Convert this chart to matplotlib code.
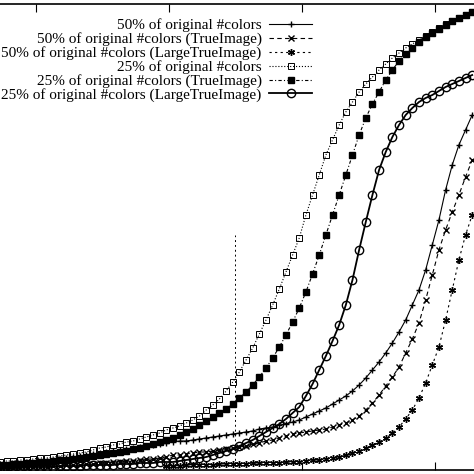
import numpy as np
import matplotlib
matplotlib.use("Agg")
import matplotlib.pyplot as plt

labels = ["50% of original #colors", "50% of original #colors (TrueImage)",
          "50% of original #colors (LargeTrueImage)", "25% of original #colors",
          "25% of original #colors (TrueImage)", "25% of original #colors (LargeTrueImage)"]

step = 6.65
plus_vals = [2,3,4,5,6,7,8,9,10,11,12,13,14,15,16,17,18,19,20,21,22,23,24,25,26,27,28,29,29,30,31,32,33,34,35,36,
             37,38,39,41,42,43,45,46,48,50,
             53,56,59,62,66,70,74,79,85,92,
             100,108,117,127,138,150,165,180,200,225,250,280,305,325,340,355]
x_vals = [1,1,2,2,2,3,3,3,4,4,5,5,5,6,6,7,
          7,8,8,9,9,10,11,11,12,13,15,15,16,17,18,
          18,19,20,21,22,23,24,26,27,29,30,32,34,36,37,
          38,39,40,41,43,45,47,50,54,60,
          67,75,84,93,103,117,131,147,170,195,220,240,258,275,293,310]
star_start = 25
star_vals = [4,4,4,5,5,5,5,5,6,6,6,6,6,7,7,7,7,7,8,8,8,
             9,10,10,11,12,13,15,17,19,22,
             25,28,32,37,43,51,60,72,87,105,123,150,180,210,235,255]
sq_vals = [8,9,9,10,10,11,12,12,13,14,15,16,17,18,20,22,
           23,25,26,28,29,31,33,35,37,40,42,44,47,50,54,
           60,65,71,79,88,98,110,122,136,150,165,181,198,215,232,
           255,275,295,315,330,345,358,368,378,386,
           393,400,406,412,417,422,426,430,434,438,442,446,449,452,455,458]
fsq_vals = [5,5,6,6,7,7,8,8,9,10,10,11,12,13,14,15,
            16,17,18,19,21,22,24,26,28,30,32,35,38,41,45,
            49,53,57,61,66,72,78,85,93,102,112,123,135,148,162,
            178,196,215,235,255,275,295,315,335,352,
            366,378,390,400,409,416,422,428,433,437,441,445,449,452,455,458]
circ_vals = [2,2,2,2,3,3,3,3,3,4,4,4,4,5,5,5,
             5,5,6,6,6,7,7,7,8,8,8,9,10,11,12,
             13,15,17,19,21,24,27,30,34,38,42,46,51,57,63,
             74,86,100,114,129,145,165,190,220,248,
             275,300,318,333,345,355,362,368,372,375,379,383,386,389,392,395]
vline_x = 235
vline_top = 235

fig = plt.figure(figsize=(4.74, 4.74), dpi=100)
ax = fig.add_axes([-0.01, 4/474, 1.02, 466/474])
ax.set_xlim(-4.7, 478.7)
ax.set_ylim(0, 466)

def xs(n, start=0):
    return (np.arange(n) + start) * step

k = dict(color='black', lw=0.8, ms=5)
ax.plot(xs(len(plus_vals)), plus_vals, ls='-', marker='+', label=labels[0], **k)
ax.plot(xs(len(x_vals)), x_vals, ls=(0, (4, 3)), marker='x', label=labels[1], **k)
ax.plot(xs(len(star_vals), star_start), star_vals, ls=(0, (2, 3)), marker=(6, 2, 0), label=labels[2], **k)
ax.plot(xs(len(sq_vals)), sq_vals, ls=':', marker='s', mfc='none', mew=0.7, label=labels[3], **k)
ax.plot(xs(len(fsq_vals)), fsq_vals, ls=(0, (3, 2, 1, 2)), marker='s', label=labels[4], **k)
ax.plot(xs(len(circ_vals)), circ_vals, ls='-', marker='o', mfc='none', color='black', lw=1.3, ms=6, label=labels[5])
ax.plot([vline_x, vline_x], [0, vline_top], color='black', lw=0.7, ls=(0, (2, 3)))

ax.set_xticks([36, 169, 302, 435])
ax.set_yticks([])
ax.tick_params(axis='x', direction='in', length=6, top=True, labelbottom=False)
for s in ['left', 'right']:
    ax.spines[s].set_visible(False)
for s in ['top', 'bottom']:
    ax.spines[s].set_linewidth(1.2)

leg = ax.legend(loc='upper right', bbox_to_anchor=(318/474, 0.985), frameon=False,
                markerfirst=False, prop={'family': 'Liberation Serif', 'size': 11},
                labelspacing=0.0, handlelength=2.8, handletextpad=0.5, borderpad=0)
for t in leg.get_texts():
    t.set_ha('right')
leg._legend_box.align = 'right'
fig.savefig('out.png', dpi=100)
